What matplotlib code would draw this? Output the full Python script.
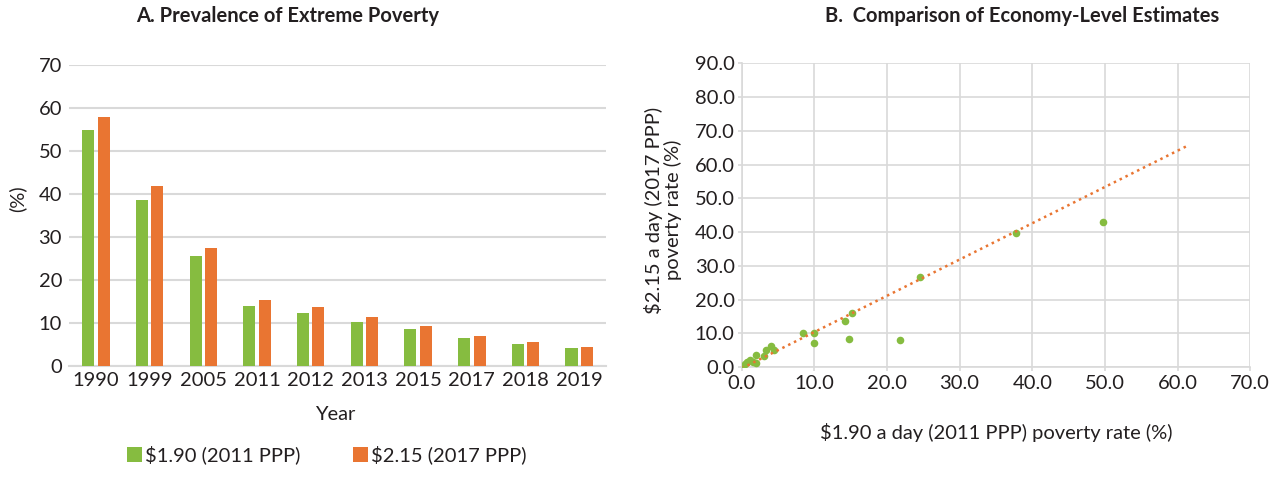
import matplotlib
matplotlib.use("Agg")
import matplotlib.pyplot as plt
import numpy as np

plt.rcParams['font.family'] = ['Lato', 'DejaVu Sans']
plt.rcParams['text.parse_math'] = False
plt.rcParams['text.color'] = '#231F20'
plt.rcParams['xtick.color'] = '#231F20'
plt.rcParams['ytick.color'] = '#231F20'

# panel A data
years = ['1990', '1999', '2005', '2011', '2012', '2013', '2015', '2017', '2018', '2019']
rate_190 = [55.0, 38.6, 25.6, 14.0, 12.4, 10.2, 8.7, 6.4, 5.2, 4.2]
rate_215 = [57.9, 41.8, 27.5, 15.4, 13.7, 11.3, 9.2, 6.9, 5.5, 4.5]

# panel B data (economy level)
econ_190 = [0.0, 0.4, 0.7, 1.1, 1.6, 2.0, 2.0, 3.1, 3.4, 4.0, 4.5,
            8.5, 9.9, 9.9, 14.2, 15.2, 14.8, 21.8, 24.5, 37.8, 49.7]
econ_215 = [0.0, 0.8, 1.5, 2.0, 1.5, 1.3, 3.5, 3.4, 5.0, 6.1, 5.0,
            10.0, 10.0, 7.1, 13.5, 16.0, 8.3, 8.1, 26.7, 39.6, 43.1]
trend_slope = 1.075
trend_intercept = -0.4
trend_range = [0.0, 61.4]

green = '#86BC40'
orange = '#E97532'
grid = '#D9D9D9'

fig = plt.figure(figsize=(12.86, 4.78), dpi=100)

# ---- A ----
ax1 = fig.add_axes([0.0537, 0.2343, 0.4176, 0.6297])
x = np.arange(len(years))
w = 0.225
gap = 0.063
ax1.bar(x - (w + gap) / 2, rate_190, w, color=green, label='$1.90 (2011 PPP)', zorder=3)
ax1.bar(x + (w + gap) / 2, rate_215, w, color=orange, label='$2.15 (2017 PPP)', zorder=3)
ax1.set_xlim(-0.5, len(years) - 0.5)
ax1.set_ylim(0, 70)
ax1.set_yticks(range(0, 71, 10))
ax1.set_xticks(x)
ax1.set_xticklabels(years)
ax1.yaxis.grid(True, color=grid, linewidth=1.5, zorder=0)
for s in ['top', 'right', 'left']:
    ax1.spines[s].set_visible(False)
ax1.spines['bottom'].set_color(grid)
ax1.spines['bottom'].set_linewidth(1.5)
ax1.tick_params(axis='both', length=0, labelsize=14.5)
ax1.tick_params(axis='y', pad=5)
ax1.tick_params(axis='x', pad=4)

fig.text(288 / 1286, 1 - 16 / 478, 'A. Prevalence of Extreme Poverty', ha='center', va='center',
         fontsize=14.5, fontweight='bold')
fig.text(17 / 1286, 1 - 199 / 478, '(%)', rotation=90, ha='center', va='center', fontsize=14.5)
fig.text(335 / 1286, 1 - 415 / 478, 'Year', ha='center', va='center', fontsize=14.5)
fig.legend(loc='center', bbox_to_anchor=(327 / 1286, 1 - 455 / 478), ncol=2, frameon=False,
           fontsize=14.5, handlelength=0.75, handleheight=0.75, handletextpad=0.15,
           columnspacing=2.6)

# ---- B ----
ax2 = fig.add_axes([0.5767, 0.2322, 0.3955, 0.6354])
ax2.scatter(econ_190, econ_215, s=30, color=green, zorder=3, linewidths=0)
tx = np.array(trend_range)
ax2.plot(tx, trend_slope * tx + trend_intercept, color=orange, linewidth=1.8,
         linestyle=(0, (1, 1.6)), zorder=4)
ax2.set_xlim(0, 70)
ax2.set_ylim(0, 90)
ax2.set_xticks(range(0, 71, 10))
ax2.set_yticks(range(0, 91, 10))
ax2.set_xticklabels([f'{v:.1f}' for v in range(0, 71, 10)])
ax2.set_yticklabels([f'{v:.1f}' for v in range(0, 91, 10)])
ax2.grid(True, color=grid, linewidth=1.2, zorder=0)
for s in ['top', 'right']:
    ax2.spines[s].set_visible(False)
for s in ['left', 'bottom']:
    ax2.spines[s].set_color(grid)
    ax2.spines[s].set_linewidth(1.2)
ax2.tick_params(axis='both', length=3, color=grid, width=1.2, labelsize=14.5)
ax2.tick_params(axis='y', pad=2)
ax2.tick_params(axis='x', pad=3)

fig.text(1022 / 1286, 1 - 16 / 478, 'B.  Comparison of Economy-Level Estimates', ha='center',
         va='center', fontsize=14.5, fontweight='bold')
fig.text(663 / 1286, 1 - 210 / 478, '$2.15 a day (2017 PPP)\npoverty rate (%)', rotation=90,
         ha='center', va='center', fontsize=14.5, linespacing=1.1)
fig.text(996 / 1286, 1 - 432 / 478, '$1.90 a day (2011 PPP) poverty rate (%)', ha='center',
         va='center', fontsize=14.5)

fig.savefig('out.png', dpi=100)
